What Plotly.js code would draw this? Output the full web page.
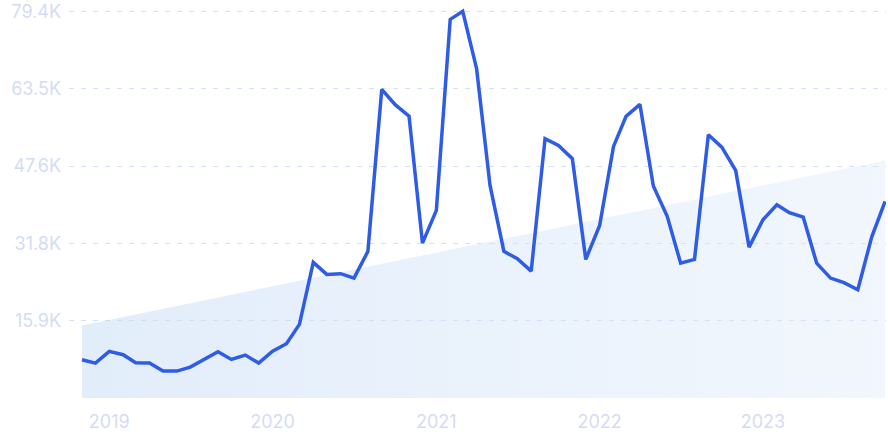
<!DOCTYPE html>
<html>
<head>
<meta charset="utf-8">
<script src="https://cdn.plot.ly/plotly-3.0.1.min.js"></script>
<style>
html,body{margin:0;padding:0;background:#fff;}
#chart{width:888px;height:443px;}
</style>
</head>
<body>
<div id="chart"></div>
<script>
// Monthly series, Nov 2018 – Oct 2023
const startYear = 2018, startMonth = 11;
const values = [
  7865, 7167, 9569, 8892, 7249, 7167, 5524, 5524, 6345, 7927, 9508, 7927,
  8810, 7167, 9631, 11150, 15114, 27845, 25381, 25525, 24621, 30104, 63371, 60229,
  57888, 31809, 38524, 77745, 79400, 67622, 43657, 30104, 28605, 26059, 53247, 51871,
  49140, 28461, 35444, 51666, 57827, 60291, 43514, 37292, 27702, 28461, 54069, 51522,
  46738, 30988, 36614, 39694, 38051, 37148, 27702, 24621, 23677, 22239, 33041, 40372
];
// Trend line endpoints (first and last month)
const trendValues = [14900, 48790];
const yTickVals = [15880, 31760, 47640, 63520, 79400];
const yTickText = ['15.9K', '31.8K', '47.6K', '63.5K', '79.4K'];
const xTickVals = ['2019-01-01', '2020-01-01', '2021-01-01', '2022-01-01', '2023-01-01'];
const xTickText = ['2019', '2020', '2021', '2022', '2023'];

const dates = values.map((v, i) => {
  const m0 = startMonth - 1 + i;
  const y = startYear + Math.floor(m0 / 12);
  const m = (m0 % 12) + 1;
  return y + '-' + String(m).padStart(2, '0') + '-01';
});
const trendX = [dates[0], dates[dates.length - 1]];

const traces = [
  {
    x: trendX, y: trendValues, type: 'scatter', mode: 'lines',
    line: {width: 0, color: 'rgba(0,0,0,0)'},
    fill: 'tozeroy',
    fillgradient: {
      type: 'horizontal',
      colorscale: [[0, 'rgba(190,215,245,0.45)'], [1, 'rgba(222,234,250,0.4)']]
    },
    hoverinfo: 'skip', showlegend: false
  },
  {
    x: dates, y: values, type: 'scatter', mode: 'lines',
    line: {color: '#2e5ce6', width: 3.5, shape: 'linear'},
    showlegend: false, cliponaxis: false
  }
];

const layout = {
  width: 888, height: 443,
  margin: {l: 69, r: 2, t: 3, b: 45},
  paper_bgcolor: '#ffffff', plot_bgcolor: '#ffffff',
  font: {family: 'Inter, sans-serif', color: '#d3dcf4', size: 18},
  xaxis: {
    type: 'date',
    range: ['2018-10-03', '2023-10-03'],
    tickvals: xTickVals, ticktext: xTickText,
    showgrid: false, zeroline: false, showline: false,
    ticks: '', ticklabelstandoff: 11,
    tickfont: {family: 'Inter, sans-serif', size: 18, color: '#d3dcf4'}
  },
  yaxis: {
    range: [0, 81110],
    tickvals: yTickVals, ticktext: yTickText,
    showgrid: true, gridcolor: '#cfe1f8', griddash: '5px,7px', gridwidth: 1,
    zeroline: false, showline: false,
    ticks: '', ticklabelstandoff: 7,
    tickfont: {family: 'Inter, sans-serif', size: 18, color: '#d3dcf4'}
  },
  hovermode: false
};

Plotly.newPlot('chart', traces, layout, {displayModeBar: false, staticPlot: true});
</script>
</body>
</html>
